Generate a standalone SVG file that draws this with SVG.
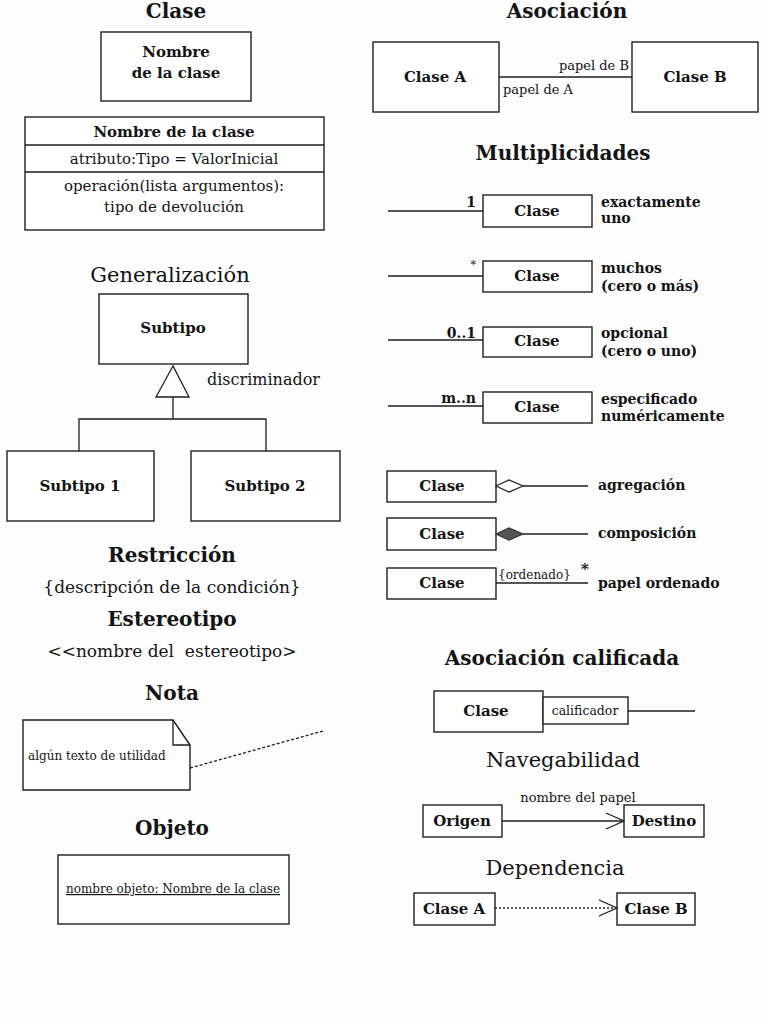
<svg xmlns="http://www.w3.org/2000/svg" width="768" height="1024" viewBox="0 0 768 1024">
<defs>
<style>
.t{font-family:"DejaVu Serif","Liberation Serif",serif;fill:#141414;font-size:20px;font-weight:bold;text-anchor:middle}
.b{font-family:"DejaVu Serif","Liberation Serif",serif;fill:#141414;font-weight:bold;font-size:15px}
.r{font-family:"DejaVu Serif","Liberation Serif",serif;fill:#141414;font-size:15px}
.m{text-anchor:middle}
.box{fill:#fff;stroke:#1e1e1e;stroke-width:1.4}
.ln{fill:none;stroke:#1e1e1e;stroke-width:1.3}
</style>
<marker id="open" viewBox="0 0 20 20" refX="19" refY="10" markerWidth="20" markerHeight="20" markerUnits="userSpaceOnUse" orient="auto">
<path d="M1,2 L19,10 L1,18" fill="none" stroke="#1e1e1e" stroke-width="1.3"/>
</marker>
</defs>
<rect width="768" height="1024" fill="#fdfdfd"/>

<g id="titles">
<text class="t" x="176" y="18">Clase</text>
<text class="t" x="567" y="18">Asociación</text>
<text class="t" x="563" y="160">Multiplicidades</text>
<text class="t" x="170" y="282" style="font-weight:normal;font-size:21px">Generalización</text>
<text class="t" x="172" y="562">Restricción</text>
<text class="t" x="172" y="626">Estereotipo</text>
<text class="t" x="172" y="700">Nota</text>
<text class="t" x="172" y="835">Objeto</text>
<text class="t" x="562" y="665">Asociación calificada</text>
<text class="t" x="563" y="767" style="font-weight:normal;font-size:21px">Navegabilidad</text>
<text class="t" x="555" y="875" style="font-weight:normal;font-size:21px">Dependencia</text>
<text class="r m" x="172" y="593" style="font-size:17px">{descripción de la condición}</text>
<text class="r m" x="172" y="657" style="font-size:17px;white-space:pre" xml:space="preserve">&lt;&lt;nombre del  estereotipo&gt;</text>
</g>

<g id="clase-simple">
<rect class="box" x="101" y="32" width="150" height="69"/>
<text class="b m" x="176" y="57">Nombre</text>
<text class="b m" x="176" y="78">de la clase</text>
</g>
<g id="clase-completa">
<rect class="box" x="25" y="117" width="299" height="113"/>
<line class="ln" x1="25" y1="145" x2="324" y2="145"/>
<line class="ln" x1="25" y1="172" x2="324" y2="172"/>
<text class="b m" x="174" y="137">Nombre de la clase</text>
<text class="r m" x="174" y="164">atributo:Tipo = ValorInicial</text>
<text class="r m" x="174" y="191">operación(lista argumentos):</text>
<text class="r m" x="174" y="212">tipo de devolución</text>
</g>

<g id="clase-a">
<rect class="box" x="373" y="42" width="126" height="70"/>
<text class="b m" x="435" y="82">Clase A</text>
</g>
<g id="clase-b">
<rect class="box" x="632" y="42" width="126" height="70"/>
<text class="b m" x="695" y="82">Clase B</text>
</g>

<g id="subtipo">
<rect class="box" x="99" y="294" width="149" height="70"/>
<text class="b m" x="173" y="333">Subtipo</text>
</g>
<g id="subtipo1">
<rect class="box" x="7" y="451" width="147" height="70"/>
<text class="b m" x="80" y="491">Subtipo 1</text>
</g>
<g id="subtipo2">
<rect class="box" x="191" y="451" width="149" height="70"/>
<text class="b m" x="265" y="491">Subtipo 2</text>
</g>

<g id="mult-1">
<rect class="box" x="483" y="195" width="109" height="32"/>
<text class="b m" x="537" y="216">Clase</text>
<text class="b" x="601" y="207" style="font-size:14px">exactamente</text>
<text class="b" x="601" y="223" style="font-size:14px">uno</text>
</g>
<g id="mult-muchos">
<rect class="box" x="483" y="261" width="109" height="31"/>
<text class="b m" x="537" y="281">Clase</text>
<text class="b" x="601" y="273" style="font-size:14px">muchos</text>
<text class="b" x="601" y="291" style="font-size:14px">(cero o más)</text>
</g>
<g id="mult-opcional">
<rect class="box" x="483" y="327" width="109" height="30"/>
<text class="b m" x="537" y="346">Clase</text>
<text class="b" x="601" y="338" style="font-size:14px">opcional</text>
<text class="b" x="601" y="356" style="font-size:14px">(cero o uno)</text>
</g>
<g id="mult-mn">
<rect class="box" x="483" y="392" width="109" height="31"/>
<text class="b m" x="537" y="412">Clase</text>
<text class="b" x="601" y="404" style="font-size:14px">especificado</text>
<text class="b" x="601" y="421" style="font-size:14px">numéricamente</text>
</g>

<g id="agregacion">
<rect class="box" x="387" y="471" width="109" height="31"/>
<text class="b m" x="442" y="491">Clase</text>
<text class="b" x="598" y="490" style="font-size:14px">agregación</text>
</g>
<g id="composicion">
<rect class="box" x="387" y="518" width="109" height="32"/>
<text class="b m" x="442" y="539">Clase</text>
<text class="b" x="598" y="538" style="font-size:14px">composición</text>
</g>
<g id="ordenado">
<rect class="box" x="387" y="568" width="109" height="31"/>
<text class="b m" x="442" y="588">Clase</text>
<text class="b" x="598" y="588" style="font-size:14px">papel ordenado</text>
</g>

<g id="nota">
<path class="box" d="M23,720 L173,720 L190,745 L190,790 L23,790 Z"/>
<path class="ln" d="M173,720 L173,745 L190,745"/>
<text class="r" x="28" y="760" style="font-size:12px">algún texto de utilidad</text>
</g>

<g id="objeto">
<rect class="box" x="58" y="855" width="231" height="69"/>
<text class="r m" x="173" y="893" style="font-size:12px;text-decoration:underline">nombre objeto: Nombre de la clase</text>
</g>

<g id="calificada">
<rect class="box" x="434" y="691" width="109" height="41"/>
<text class="b m" x="486" y="716">Clase</text>
</g>
<g id="calificador">
<rect class="box" x="543" y="697" width="85" height="27"/>
<text class="r m" x="585" y="715" style="font-size:12.5px">calificador</text>
</g>

<g id="origen">
<rect class="box" x="423" y="805" width="79" height="32"/>
<text class="b m" x="462" y="826">Origen</text>
</g>
<g id="destino">
<rect class="box" x="624" y="805" width="80" height="32"/>
<text class="b m" x="664" y="826">Destino</text>
</g>

<g id="dep-a">
<rect class="box" x="414" y="893" width="81" height="32"/>
<text class="b m" x="454" y="914">Clase A</text>
</g>
<g id="dep-b">
<rect class="box" x="617" y="893" width="78" height="32"/>
<text class="b m" x="656" y="914">Clase B</text>
</g>

<g id="connectors">
<line class="ln" x1="499" y1="77" x2="632" y2="77"/>
<text class="r" x="629" y="70" style="font-size:13px;text-anchor:end">papel de B</text>
<text class="r" x="503" y="94" style="font-size:13px">papel de A</text>

<polygon points="173,366 156,397 189,397" fill="#fff" stroke="#1e1e1e" stroke-width="1.3"/>
<polyline class="ln" points="173,397 173,419"/>
<polyline class="ln" points="79,451 79,419 266,419 266,451"/>
<text class="r" x="207" y="385" style="font-size:16px">discriminador</text>

<line class="ln" x1="388" y1="211" x2="483" y2="211"/>
<text class="b" x="476" y="207" style="font-size:14px;text-anchor:end">1</text>
<line class="ln" x1="388" y1="276" x2="483" y2="276"/>
<text class="r" x="476" y="268" style="font-size:11px;text-anchor:end">*</text>
<line class="ln" x1="388" y1="340" x2="483" y2="340"/>
<text class="b" x="476" y="338" style="font-size:14px;text-anchor:end">0..1</text>
<line class="ln" x1="388" y1="406" x2="483" y2="406"/>
<text class="b" x="476" y="403" style="font-size:14px;text-anchor:end">m..n</text>

<polygon points="496,486 509,480 523,486 509,492" fill="#fff" stroke="#1e1e1e" stroke-width="1.2"/>
<line class="ln" x1="523" y1="486" x2="588" y2="486"/>
<polygon points="496,534 509,528 523,534 509,540" fill="#555" stroke="#333" stroke-width="1.2"/>
<line class="ln" x1="523" y1="534" x2="588" y2="534"/>
<line class="ln" x1="496" y1="583" x2="588" y2="583"/>
<text class="r" x="498" y="579" style="font-size:12px">{ordenado}</text>
<text class="b" x="585" y="574" style="font-size:15px;text-anchor:middle">*</text>

<line class="ln" x1="190" y1="768" x2="323" y2="731" stroke-dasharray="3,2" stroke-width="1"/>

<line class="ln" x1="628" y1="711" x2="695" y2="711"/>

<line class="ln" x1="502" y1="821" x2="624" y2="821" marker-end="url(#open)"/>
<text class="r m" x="578" y="802" style="font-size:13px">nombre del papel</text>

<line class="ln" x1="495" y1="908" x2="617" y2="908" stroke-dasharray="2,2" marker-end="url(#open)"/>
</g>
</svg>
